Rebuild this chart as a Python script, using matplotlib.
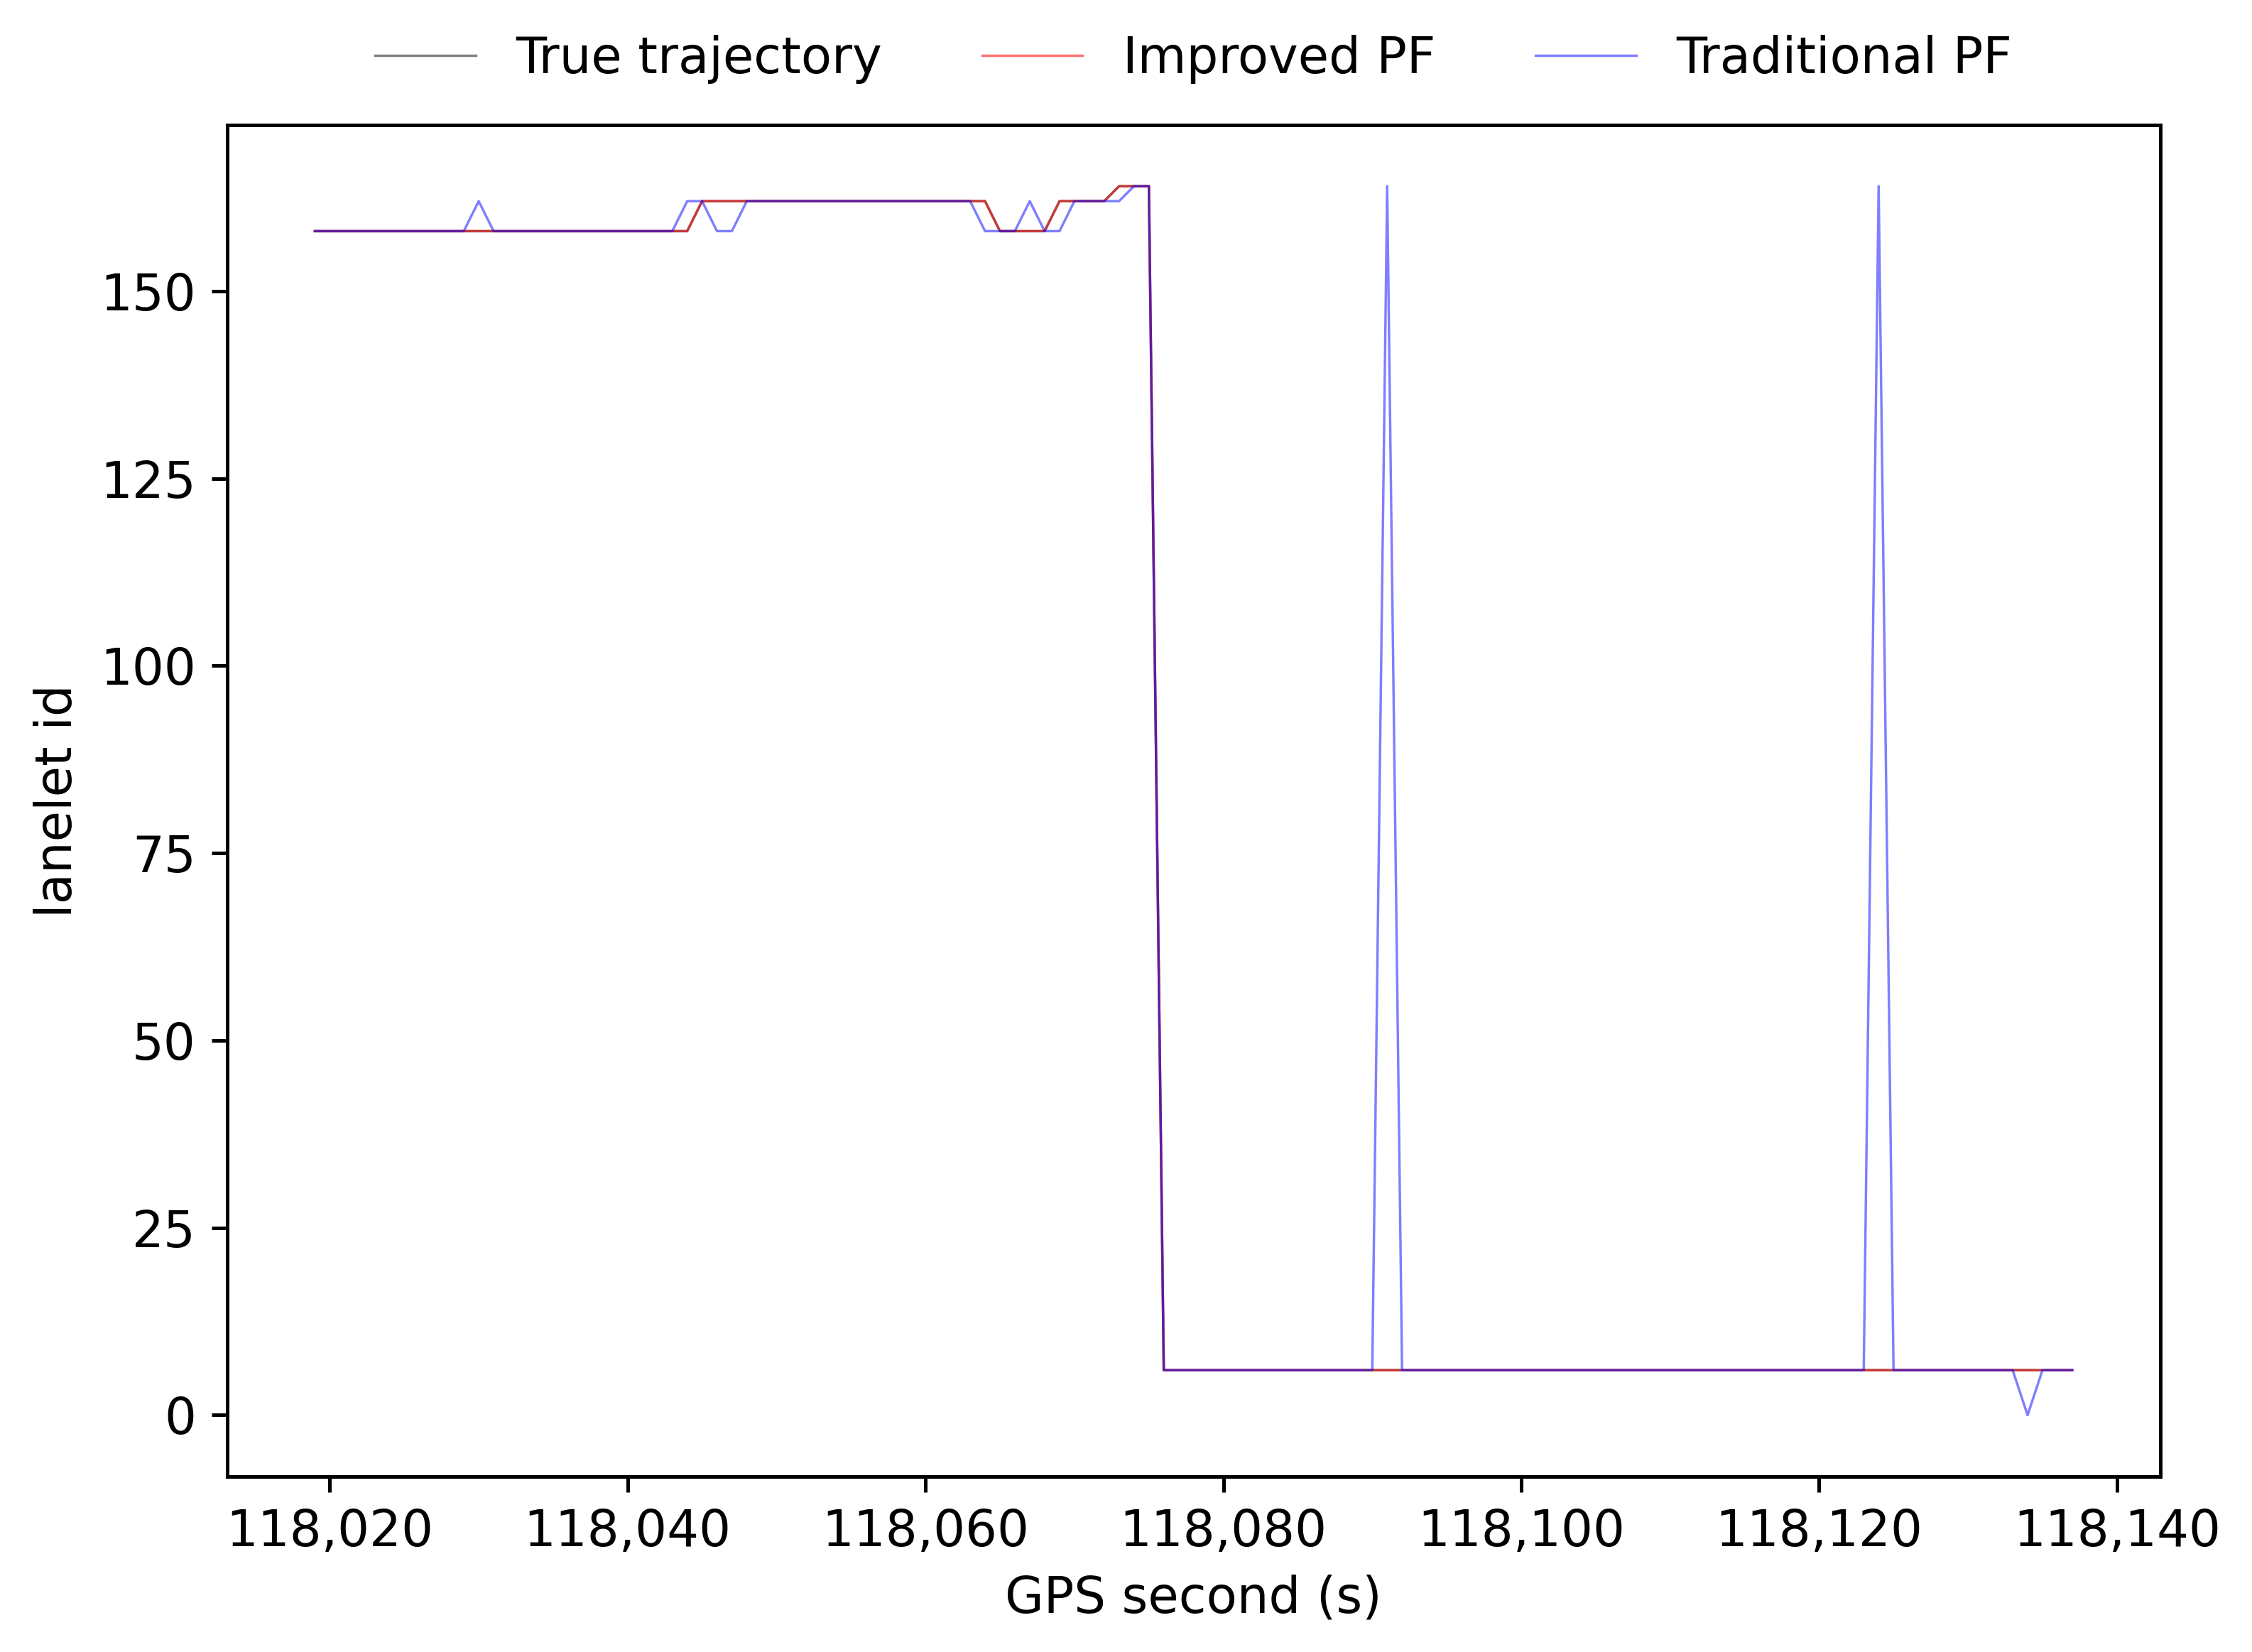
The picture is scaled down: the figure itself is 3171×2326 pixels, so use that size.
import numpy as np
import matplotlib
matplotlib.use("Agg")
import matplotlib.pyplot as plt
from matplotlib.ticker import StrMethodFormatter

# GPS seconds, one sample per second
gps_start = 118019
gps_end = 118137

# lanelet ids (true trajectory == improved PF)
true_ids = [
    158, 158, 158, 158, 158, 158, 158, 158, 158, 158,  # 118019-118028
    158, 158, 158, 158, 158, 158, 158, 158, 158, 158,  # 118029-118038
    158, 158, 158, 158, 158, 158, 162, 162, 162, 162,  # 118039-118048
    162, 162, 162, 162, 162, 162, 162, 162, 162, 162,  # 118049-118058
    162, 162, 162, 162, 162, 162, 158, 158, 158, 158,  # 118059-118068
    162, 162, 162, 162, 164, 164, 164, 6, 6, 6,        # 118069-118078
    6, 6, 6, 6, 6, 6, 6, 6, 6, 6,                      # 118079-118088
    6, 6, 6, 6, 6, 6, 6, 6, 6, 6,                      # 118089-118098
    6, 6, 6, 6, 6, 6, 6, 6, 6, 6,                      # 118099-118108
    6, 6, 6, 6, 6, 6, 6, 6, 6, 6,                      # 118109-118118
    6, 6, 6, 6, 6, 6, 6, 6, 6, 6,                      # 118119-118128
    6, 6, 6, 6, 6, 6, 6, 6, 6,                         # 118129-118137
]
improved_ids = list(true_ids)
traditional_ids = [
    158, 158, 158, 158, 158, 158, 158, 158, 158, 158,  # 118019-118028
    158, 162, 158, 158, 158, 158, 158, 158, 158, 158,  # 118029-118038
    158, 158, 158, 158, 158, 162, 162, 158, 158, 162,  # 118039-118048
    162, 162, 162, 162, 162, 162, 162, 162, 162, 162,  # 118049-118058
    162, 162, 162, 162, 162, 158, 158, 158, 162, 158,  # 118059-118068
    158, 162, 162, 162, 162, 164, 164, 6, 6, 6,        # 118069-118078
    6, 6, 6, 6, 6, 6, 6, 6, 6, 6,                      # 118079-118088
    6, 6, 164, 6, 6, 6, 6, 6, 6, 6,                    # 118089-118098
    6, 6, 6, 6, 6, 6, 6, 6, 6, 6,                      # 118099-118108
    6, 6, 6, 6, 6, 6, 6, 6, 6, 6,                      # 118109-118118
    6, 6, 6, 6, 6, 164, 6, 6, 6, 6,                    # 118119-118128
    6, 6, 6, 6, 6, 0, 6, 6, 6,                         # 118129-118137
]

gps = np.arange(gps_start, gps_end + 1)

plt.rcParams['font.size'] = 11.3
dpi = 450
fig = plt.figure(figsize=(3171 / dpi, 2326 / dpi), dpi=dpi)
ax = fig.add_axes([0.1008, 0.1062, 0.9592 - 0.1008, 0.9245 - 0.1062])

lw = 0.55
ax.plot(gps, true_ids, color='k', alpha=0.5, lw=lw, label='True trajectory')
ax.plot(gps, improved_ids, color='r', alpha=0.55, lw=lw, label='Improved PF')
ax.plot(gps, traditional_ids, color='b', alpha=0.5, lw=lw, label='Traditional PF')

ax.xaxis.set_major_formatter(StrMethodFormatter('{x:,.0f}'))
ax.set_xlabel('GPS second (s)', labelpad=4)
ax.set_ylabel('lanelet id')

ax.legend(loc='lower center', bbox_to_anchor=(0.5, 0.997), ncol=3, frameon=False)

fig.savefig('out.png', dpi=dpi)
